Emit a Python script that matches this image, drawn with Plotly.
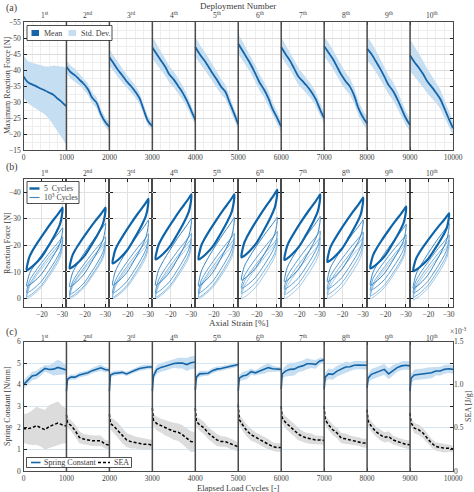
import plotly.graph_objects as go

W, H = 474, 492
FONT = "Liberation Serif"
TEXT = "#3c3c3c"
BLUE = "#1565a8"
BAND = "#c6def1"
GREYBAND = "#dcdcdc"
FRAME = "#4a4a4a"

# --- data ---
deploy_labels = ["1<sup>st</sup>", "2<sup>nd</sup>", "3<sup>rd</sup>", "4<sup>th</sup>", "5<sup>th</sup>",
                 "6<sup>th</sup>", "7<sup>th</sup>", "8<sup>th</sup>", "9<sup>th</sup>", "10<sup>th</sup>"]
cycle_ticks = [0, 1000, 2000, 3000, 4000, 5000, 6000, 7000, 8000, 9000, 10000]
cycle_labels = ["0", "1000", "2000", "3000", "4000", "5000", "6000", "7000", "8000", "9000", "10000"]

# (a) maximum reaction force, sampled every 100 cycles inside each deployment
offs_a = [0, 100, 200, 300, 400, 500, 600, 700, 800, 900, 1000]
force_mean = [
    [-38.0, -36.2, -35.5, -34.9, -34.2, -33.6, -32.9, -32.2, -31.0, -29.9, -28.6],
    [-41.0, -39.3, -38.3, -37.0, -35.7, -34.0, -31.3, -29.8, -26.3, -23.8, -22.2],
    [-44.0, -42.0, -40.0, -38.3, -36.5, -35.0, -33.3, -31.2, -27.5, -24.0, -22.5],
    [-47.0, -45.0, -43.0, -41.0, -38.5, -37.0, -35.0, -33.0, -30.5, -27.5, -24.3],
    [-47.2, -45.0, -43.2, -41.2, -39.0, -37.0, -34.8, -33.2, -29.8, -26.5, -23.0],
    [-48.2, -46.0, -43.8, -41.5, -38.8, -36.0, -33.9, -31.2, -27.8, -25.2, -22.3],
    [-47.2, -45.0, -43.0, -40.5, -38.0, -36.5, -35.0, -33.2, -31.0, -27.8, -24.9],
    [-47.4, -45.5, -43.5, -41.0, -38.5, -36.5, -34.8, -32.0, -28.0, -25.3, -23.3],
    [-46.7, -45.0, -42.8, -40.5, -38.0, -35.3, -33.5, -31.0, -28.0, -25.0, -22.8],
    [-44.6, -42.5, -40.8, -38.8, -36.5, -34.8, -33.0, -31.0, -28.0, -24.8, -21.8],
]
force_std = [
    [6.5, 6.6, 6.8, 7.0, 7.2, 7.5, 8.2, 9.2, 10.2, 11.2, 12.0],
    [2.0, 2.0, 2.0, 1.8, 1.8, 1.8, 1.7, 1.7, 1.6, 1.5, 1.5],
    [2.5, 2.4, 2.3, 2.2, 2.1, 2.0, 1.9, 1.8, 1.6, 1.4, 1.2],
    [3.5, 3.2, 3.0, 2.8, 2.6, 2.5, 2.4, 2.2, 2.0, 1.8, 1.5],
    [3.2, 3.0, 2.9, 2.8, 2.6, 2.5, 2.4, 2.2, 2.0, 1.8, 1.6],
    [3.2, 3.0, 2.8, 2.7, 2.6, 2.5, 2.4, 2.3, 2.1, 2.0, 1.8],
    [3.0, 2.9, 2.8, 2.7, 2.6, 2.5, 2.4, 2.3, 2.2, 2.0, 1.8],
    [3.2, 3.1, 3.0, 2.9, 2.8, 2.7, 2.6, 2.5, 2.3, 2.1, 2.0],
    [3.8, 3.6, 3.4, 3.2, 3.0, 2.9, 2.8, 2.6, 2.4, 2.2, 2.0],
    [5.0, 4.7, 4.4, 4.1, 3.8, 3.5, 3.2, 3.0, 2.7, 2.4, 2.2],
]

# (b) hysteresis loops: normalised loop outline (strain fraction, force fraction)
loop_u = [0, 0.03, 0.08, 0.15, 0.30, 0.50, 0.70, 0.85, 0.95, 1.0, 0.98, 0.93, 0.80, 0.60, 0.40, 0.20, 0.07, 0]
loop_f = [0, 0.12, 0.22, 0.30, 0.44, 0.61, 0.77, 0.88, 0.96, 1.0, 0.87, 0.74, 0.58, 0.38, 0.20, 0.08, 0.02, 0]
strain_start = -12.6
strain_peak = -30.2
f5_low = [-10.7, -11.3, -13.2, -14.7, -14.7, -15.5, -14.5, -13.8, -11.3, -10.3]
f5_peak = [-34.2, -34.2, -37.5, -39.2, -39.2, -40.9, -39.2, -38.0, -34.6, -32.1]
f1k_low = [
    [-4.6, -2.1, -0.6, 0.0], [-4.4, -1.5, -0.5, 0.0], [-5.0, -2.0, -0.5, 0.0], [-5.0, -2.0, -0.5, 0.0],
    [-4.7, -2.0, -0.5, 0.0], [-6.9, -3.8, -1.9, 0.0], [-6.3, -3.5, -1.5, 0.0], [-6.3, -3.5, -1.5, 0.0],
    [-5.0, -3.0, -1.0, 0.0], [-3.8, -2.0, -0.5, 0.5],
]
f1k_peak = [
    [-26.6, -23.2, -22.0, -20.7], [-28.3, -23.2, -21.5, -20.5], [-29.5, -24.3, -22.5, -21.0],
    [-30.2, -24.5, -22.5, -21.0], [-30.5, -24.5, -22.5, -21.0], [-30.6, -25.2, -22.6, -21.4],
    [-30.9, -25.4, -23.0, -21.0], [-29.6, -25.0, -23.0, -21.0], [-27.9, -24.0, -22.0, -21.0],
    [-28.3, -23.9, -22.0, -20.5],
]
thin_colors = ["#3a86c2", "#5c9dd0", "#7db3dc", "#a2c9e7"]

# (c) spring constant and SEA
offs_c = [0, 25, 100, 200, 300, 400, 500, 600, 700, 800, 900, 1000]
k_mean = [
    [4.0, 4.05, 4.2, 4.4, 4.45, 4.6, 4.75, 4.7, 4.72, 4.8, 4.75, 4.68],
    [3.7, 4.25, 4.35, 4.35, 4.45, 4.5, 4.55, 4.65, 4.72, 4.78, 4.7, 4.67],
    [3.7, 4.45, 4.52, 4.55, 4.57, 4.5, 4.6, 4.67, 4.75, 4.8, 4.82, 4.82],
    [3.7, 4.4, 4.7, 4.8, 4.85, 4.92, 4.98, 5.0, 5.0, 4.93, 5.02, 5.05],
    [3.75, 4.35, 4.5, 4.52, 4.53, 4.65, 4.72, 4.75, 4.8, 4.85, 4.88, 4.93],
    [3.7, 4.3, 4.4, 4.45, 4.6, 4.55, 4.63, 4.71, 4.79, 4.74, 4.71, 4.71],
    [3.8, 4.5, 4.63, 4.71, 4.72, 4.82, 4.87, 4.97, 4.97, 4.94, 5.1, 5.15],
    [3.78, 4.35, 4.5, 4.48, 4.63, 4.71, 4.82, 4.83, 4.9, 4.91, 4.9, 4.9],
    [3.85, 4.3, 4.48, 4.55, 4.63, 4.71, 4.5, 4.66, 4.79, 4.87, 4.9, 4.87],
    [3.7, 4.3, 4.45, 4.48, 4.5, 4.55, 4.55, 4.63, 4.63, 4.71, 4.74, 4.71],
]
k_std = [
    [0.2, 0.2, 0.2, 0.2, 0.2, 0.2, 0.15, 0.2, 0.3, 0.35, 0.3, 0.2],
    [0.1, 0.1, 0.12, 0.12, 0.12, 0.12, 0.12, 0.12, 0.15, 0.15, 0.12, 0.1],
    [0.1, 0.1, 0.12, 0.12, 0.1, 0.1, 0.1, 0.1, 0.12, 0.12, 0.1, 0.1],
    [0.15, 0.2, 0.2, 0.2, 0.2, 0.2, 0.2, 0.25, 0.25, 0.3, 0.3, 0.3],
    [0.1, 0.15, 0.15, 0.12, 0.12, 0.12, 0.12, 0.1, 0.1, 0.1, 0.1, 0.1],
    [0.1, 0.15, 0.2, 0.2, 0.15, 0.12, 0.15, 0.2, 0.2, 0.15, 0.12, 0.1],
    [0.1, 0.2, 0.25, 0.3, 0.3, 0.25, 0.25, 0.25, 0.2, 0.2, 0.15, 0.1],
    [0.1, 0.2, 0.25, 0.25, 0.25, 0.25, 0.25, 0.2, 0.2, 0.2, 0.2, 0.2],
    [0.1, 0.2, 0.25, 0.25, 0.25, 0.25, 0.25, 0.25, 0.2, 0.2, 0.2, 0.2],
    [0.1, 0.2, 0.25, 0.25, 0.25, 0.25, 0.25, 0.2, 0.2, 0.2, 0.2, 0.2],
]
sea_mean = [  # x1e-3 J/g
    [0.5, 0.49, 0.49, 0.5, 0.525, 0.505, 0.478, 0.515, 0.535, 0.555, 0.535, 0.52],
    [0.65, 0.56, 0.53, 0.47, 0.39, 0.37, 0.36, 0.35, 0.35, 0.35, 0.31, 0.3],
    [0.66, 0.55, 0.52, 0.47, 0.41, 0.36, 0.34, 0.33, 0.32, 0.31, 0.31, 0.3],
    [0.73, 0.59, 0.55, 0.525, 0.5, 0.48, 0.46, 0.45, 0.42, 0.38, 0.34, 0.335],
    [0.73, 0.575, 0.536, 0.5, 0.44, 0.4, 0.36, 0.342, 0.34, 0.32, 0.3, 0.28],
    [0.77, 0.595, 0.536, 0.466, 0.42, 0.39, 0.36, 0.334, 0.31, 0.284, 0.272, 0.272],
    [0.75, 0.614, 0.563, 0.517, 0.478, 0.427, 0.4, 0.38, 0.373, 0.36, 0.36, 0.354],
    [0.75, 0.595, 0.536, 0.478, 0.44, 0.38, 0.373, 0.36, 0.35, 0.342, 0.323, 0.323],
    [0.71, 0.575, 0.517, 0.459, 0.42, 0.39, 0.4, 0.36, 0.342, 0.323, 0.31, 0.303],
    [0.67, 0.556, 0.497, 0.478, 0.44, 0.38, 0.323, 0.284, 0.272, 0.264, 0.264, 0.256],
]
sea_std = [
    [0.17, 0.17, 0.18, 0.2, 0.22, 0.22, 0.23, 0.25, 0.25, 0.25, 0.22, 0.2],
    [0.05, 0.06, 0.06, 0.07, 0.07, 0.06, 0.06, 0.06, 0.06, 0.06, 0.05, 0.05],
    [0.05, 0.07, 0.08, 0.09, 0.09, 0.08, 0.08, 0.07, 0.07, 0.07, 0.06, 0.06],
    [0.05, 0.07, 0.08, 0.08, 0.09, 0.09, 0.1, 0.1, 0.11, 0.12, 0.12, 0.11],
    [0.05, 0.06, 0.07, 0.07, 0.07, 0.07, 0.07, 0.06, 0.06, 0.06, 0.06, 0.05],
    [0.05, 0.06, 0.07, 0.07, 0.07, 0.06, 0.06, 0.06, 0.06, 0.05, 0.05, 0.05],
    [0.05, 0.06, 0.07, 0.07, 0.07, 0.07, 0.06, 0.06, 0.06, 0.05, 0.05, 0.05],
    [0.05, 0.06, 0.06, 0.06, 0.06, 0.06, 0.06, 0.05, 0.05, 0.05, 0.05, 0.05],
    [0.05, 0.06, 0.06, 0.06, 0.06, 0.06, 0.06, 0.05, 0.05, 0.05, 0.05, 0.05],
    [0.05, 0.05, 0.06, 0.06, 0.06, 0.06, 0.05, 0.05, 0.05, 0.05, 0.04, 0.04],
]


def px(x):
    return x / W


def py(y):
    return 1 - y / H


def band(xs, m, s):
    lo = [a - b for a, b in zip(m, s)]
    hi = [a + b for a, b in zip(m, s)]
    return xs + xs[::-1], lo + hi[::-1]


X0, X1 = px(23.5), px(453)
DOM_A = [py(150), py(22)]
DOM_B = [py(307), py(179)]
DOM_C = [py(471), py(341.5)]

fig = go.Figure()

# --- (a) ---
for i in range(10):
    xs = [i * 1000 + o for o in offs_a]
    bx, by = band(xs, force_mean[i], force_std[i])
    fig.add_trace(go.Scatter(x=bx, y=by, fill="toself", fillcolor=BAND, line=dict(width=0),
                             mode="lines", hoverinfo="skip", xaxis="x", yaxis="y"))
for i in range(10):
    xs = [i * 1000 + o for o in offs_a]
    fig.add_trace(go.Scatter(x=xs, y=force_mean[i], mode="lines", line=dict(color=BLUE, width=1.8, shape="spline"),
                             xaxis="x", yaxis="y"))

# --- (b) ---
for i in range(10):
    xa, ya = f"x{i + 2}", f"y{i + 2}"
    sx = [strain_start + u * (strain_peak - strain_start) for u in loop_u]
    for j in range(3, -1, -1):
        fy = [f1k_low[i][j] + f * (f1k_peak[i][j] - f1k_low[i][j]) for f in loop_f]
        fig.add_trace(go.Scatter(x=sx, y=fy, mode="lines", line=dict(color=thin_colors[j], width=1, shape="spline"),
                                 xaxis=xa, yaxis=ya))
    fy = [f5_low[i] + f * (f5_peak[i] - f5_low[i]) for f in loop_f]
    fig.add_trace(go.Scatter(x=sx, y=fy, mode="lines", line=dict(color="#0e64a8", width=2.2, shape="spline"),
                             xaxis=xa, yaxis=ya))

# --- (c) ---
for i in range(10):
    xs = [i * 1000 + o for o in offs_c]
    bx, by = band(xs, sea_mean[i], sea_std[i])
    fig.add_trace(go.Scatter(x=bx, y=by, fill="toself", fillcolor=GREYBAND, line=dict(width=0), mode="lines",
                             hoverinfo="skip", xaxis="x12", yaxis="y13"))
    bx, by = band(xs, k_mean[i], k_std[i])
    fig.add_trace(go.Scatter(x=bx, y=by, fill="toself", fillcolor=BAND, line=dict(width=0), mode="lines",
                             hoverinfo="skip", xaxis="x12", yaxis="y12"))
for i in range(10):
    xs = [i * 1000 + o for o in offs_c]
    fig.add_trace(go.Scatter(x=xs, y=k_mean[i], mode="lines", line=dict(color=BLUE, width=1.6),
                             xaxis="x12", yaxis="y12"))
    fig.add_trace(go.Scatter(x=xs, y=sea_mean[i], mode="lines", line=dict(color="black", width=1.5, dash="3px,2px"),
                             xaxis="x12", yaxis="y13"))

tick_font = dict(family=FONT, size=7.5, color=TEXT)
axis_common = dict(showline=True, linecolor=FRAME, linewidth=1.3, mirror="ticks", ticks="inside",
                   ticklen=3, tickcolor="#222", tickfont=tick_font, automargin=False, zeroline=False)

layout = dict(
    width=W, height=H, margin=dict(l=0, r=0, t=0, b=0),
    paper_bgcolor="white", plot_bgcolor="white", showlegend=False,
    font=dict(family=FONT, size=8.5, color=TEXT),
    xaxis=dict(domain=[X0, X1], anchor="y", range=[0, 10000], tickvals=cycle_ticks, ticktext=cycle_labels,
               showgrid=True, gridcolor="#dcdcdc", gridwidth=0.6,
               minor=dict(dtick=200, showgrid=True, gridcolor="#eeeeee", gridwidth=0.5), **axis_common),
    yaxis=dict(domain=DOM_A, anchor="x", range=[-15, -55], tickvals=list(range(-55, -14, 5)),
               showgrid=True, gridcolor="#dcdcdc", gridwidth=0.6,
               minor=dict(dtick=2.5, showgrid=True, gridcolor="#eeeeee", gridwidth=0.5), **axis_common),
    xaxis12=dict(domain=[X0, X1], anchor="y12", range=[0, 10000], tickvals=cycle_ticks, ticktext=cycle_labels,
                 showgrid=False, **axis_common),
    yaxis12=dict(domain=DOM_C, anchor="x12", range=[0, 6], tickvals=[0, 1, 2, 3, 4, 5, 6],
                 showgrid=True, gridcolor="#d4e6f3", gridwidth=0.8, **axis_common),
    yaxis13=dict(overlaying="y12", anchor="x12", side="right", range=[0, 1.5], tickvals=[0, 0.5, 1.0, 1.5],
                 ticktext=["0", "0.5", "1.0", "1.5"], showgrid=False, showline=False, ticks="inside",
                 ticklen=3, tickcolor="#222", tickfont=tick_font, automargin=False, zeroline=False),
)

wb = (X1 - X0) / 10
for i in range(10):
    layout[f"xaxis{i + 2}"] = dict(domain=[X0 + i * wb, X0 + (i + 1) * wb], anchor=f"y{i + 2}",
                                   range=[-11, -32.1], tickvals=[-20, -30], showgrid=True,
                                   gridcolor="#e2e2e2", gridwidth=0.6, **axis_common)
    layout[f"yaxis{i + 2}"] = dict(domain=DOM_B, anchor=f"x{i + 2}", range=[3.2, -45],
                                   tickvals=[0, -10, -20, -30, -40], showgrid=True, gridcolor="#e2e2e2",
                                   gridwidth=0.6, showticklabels=(i == 0), **axis_common)

fig.update_layout(**layout)

# deployment dividers in (a) and (c)
for k in range(1, 10):
    fig.add_shape(type="line", xref="x", yref="y domain", x0=k * 1000, x1=k * 1000, y0=0, y1=1,
                  line=dict(color=FRAME, width=1.5))
    fig.add_shape(type="line", xref="x12", yref="y12 domain", x0=k * 1000, x1=k * 1000, y0=0, y1=1,
                  line=dict(color=FRAME, width=1.5))


# legends drawn by hand (pixel positions of the reference boxes)
def box(x0, y0, x1, y1, fill="white", line="#222", lw=0.8):
    fig.add_shape(type="rect", xref="paper", yref="paper", x0=px(x0), x1=px(x1), y0=py(y1), y1=py(y0),
                  fillcolor=fill, line=dict(color=line, width=lw), layer="above")


def seg(x0, x1, y, color, width, dash="solid"):
    fig.add_shape(type="line", xref="paper", yref="paper", x0=px(x0), x1=px(x1), y0=py(y), y1=py(y),
                  line=dict(color=color, width=width, dash=dash), layer="above")


ann = []


def text(x, y, s, size=8.5, xanchor="center", angle=0):
    ann.append(dict(x=px(x), y=py(y), xref="paper", yref="paper", text=s, showarrow=False,
                    xanchor=xanchor, yanchor="middle", textangle=angle, font=dict(size=size, color=TEXT)))


box(27, 25.5, 112, 40.5)
box(31.5, 30, 39, 36, fill=BLUE, line=BLUE, lw=0)
text(42, 33, "Mean", size=8, xanchor="left")
box(68.5, 30, 76, 36, fill=BAND, line=BAND, lw=0)
text(78.5, 33, "Std. Dev.", size=8, xanchor="left")

box(27, 181.5, 79, 203.5)
seg(29.5, 39.5, 188.5, "#0e64a8", 2.4)
text(41.5, 188.5, "5  Cycles", size=7.8, xanchor="left")
seg(29.5, 39.5, 197.5, thin_colors[0], 1.1)
text(41.5, 197.5, "10<sup>3</sup> Cycles", size=7.8, xanchor="left")

box(26.5, 457.5, 131.5, 467.5)
seg(31, 40.5, 462.5, BLUE, 1.6)
text(42, 462.5, "Spring Constant", size=8, xanchor="left")
seg(98, 110, 462.5, "black", 1.5, "3px,2px")
text(111.5, 462.5, "SEA", size=8, xanchor="left")

for i, lab in enumerate(deploy_labels):
    cx = (X0 + (i + 0.5) * wb) * W
    for yy in (15, 173, 337.5):
        text(cx, yy, lab, size=7.5)
text(4, 8, "(a)", size=10, xanchor="left")
text(4, 167, "(b)", size=10, xanchor="left")
text(4, 332, "(c)", size=10, xanchor="left")
text(238, 5.5, "Deployment Number", size=9)
text(238, 323, "Axial Strain [%]", size=9)
text(238, 487.5, "Elapsed Load Cycles [-]", size=8.5)
text(7, 86, "Maximum Reaction Force [N]", size=8, angle=-90)
text(7, 243, "Reaction Force [N]", size=8, angle=-90)
text(7, 406, "Spring Constant [N/mm]", size=8, angle=-90)
text(468, 406, "SEA [J/g]", size=8, angle=-90)
text(458, 331, "×10<sup>-3</sup>", size=7.5)
fig.update_layout(annotations=ann)

fig.write_html("out.html", config={"displayModeBar": False},
               post_script="document.body.style.margin='0';document.body.style.overflow='hidden';")
